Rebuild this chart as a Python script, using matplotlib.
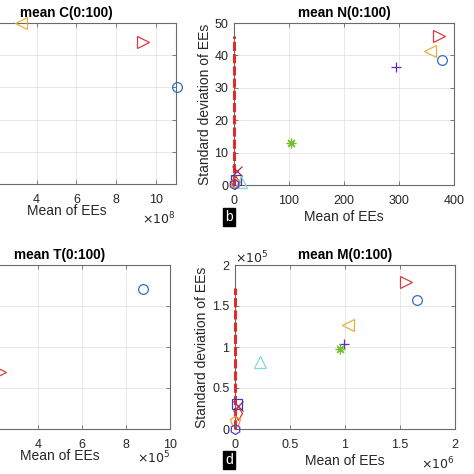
import matplotlib
matplotlib.use("Agg")
import matplotlib.pyplot as plt
from matplotlib.ticker import FuncFormatter, MultipleLocator, FixedLocator

plt.rcParams['font.family'] = ['Liberation Sans', 'DejaVu Sans']

# ---------------- data ----------------
markers = ['o', '+', (8, 2, 0), 'x', 's', 'd', '^', '>', '<', 'p', 'h']
colors = ['#2F6FC0', '#5A2DBE', '#77C030', '#A8284A', '#3A3AC8', '#D43A3A',
          '#7FD8DC', '#D83C3C', '#E9B040', '#F0A030', '#4040D0']

# panel a: mean C (only visible points)
C_idx = [0, 7, 8]
C_x = [11.04e8, 9.33e8, 3.2e8]
C_y = [6.0e8, 8.85e8, 10.0e8]
C_xticks = [4e8, 6e8, 8e8, 10e8]

# panel b: mean N
N_x = [379, 294, 104, 5, 3, 2, 12, 372, 356, 1, 0.5]
N_y = [38.6, 36.5, 12.9, 4.2, 1.5, 1.0, 1.0, 46, 41.4, 0.6, 0.3]
N_line_x = [0, 0]
N_line_y = [0, 46]

# panel c: mean T (only visible points)
T_idx = [0, 7]
T_x = [8.76e5, 2.27e5]
T_y = [1.71e5, 0.69e5]
T_xticks = [4e5, 6e5, 8e5, 10e5]

# panel d: mean M
M_x = [1.655e6, 0.99e6, 0.955e6, 0.03e6, 0.015e6, 0.03e6, 0.224e6, 1.557e6, 1.027e6, 0.0, 0.0]
M_y = [1.57e5, 1.04e5, 0.97e5, 0.28e5, 0.31e5, 0.2e5, 0.815e5, 1.79e5, 1.265e5, 0.1e5, 0.0]
M_line_x = [0, 0]
M_line_y = [0, 1.72e5]

titles = ['mean C(0:100)', 'mean N(0:100)', 'mean T(0:100)', 'mean M(0:100)']
xlabel = 'Mean of EEs'
ylabel = 'Standard deviation of EEs'

# ---------------- figure ----------------
W = H = 474
fig = plt.figure(figsize=(4.74, 4.74), dpi=100)


def px(l, t, r, b):
    return [l / W, 1 - b / H, (r - l) / W, (b - t) / H]


def style(ax, left_labels=True):
    for s in ax.spines.values():
        s.set_color('#6a6a6a')
        s.set_linewidth(0.8)
    ax.tick_params(direction='in', top=True, right=True, length=3, width=0.6,
                   color='#6a6a6a', labelsize=9, labelcolor='#262626')
    ax.tick_params(axis='x', pad=7)
    ax.tick_params(axis='y', pad=4, labelleft=left_labels)
    ax.grid(True, color='#e4e4e4', linewidth=0.6)
    ax.set_axisbelow(True)


def scat(ax, xs, ys, idx):
    for x, y, i in zip(xs, ys, idx):
        m = markers[i]
        ms = 8 if m in ['^', '>', '<', 'v'] else 7
        ax.plot([x], [y], linestyle='none', marker=m, markersize=ms,
                markerfacecolor='none', markeredgecolor=colors[i],
                markeredgewidth=0.9, clip_on=False, zorder=4)


def sci(scale):
    return FuncFormatter(lambda v, p: f"{v / scale:g}")


# panel a
axC = fig.add_axes(px(-43, 23, 176, 184))
style(axC, left_labels=False)
axC.set_xlim(0, 11e8)
axC.set_ylim(0, 10e8)
axC.xaxis.set_major_locator(FixedLocator(C_xticks))
axC.xaxis.set_minor_locator(MultipleLocator(2e8))
axC.grid(True, which='minor', axis='x', color='#e4e4e4', linewidth=0.6)
axC.tick_params(which='minor', length=0)
axC.yaxis.set_major_locator(MultipleLocator(2e8))
axC.xaxis.set_major_formatter(sci(1e8))
scat(axC, C_x, C_y, C_idx)
axC.set_title(titles[0], fontsize=9.8, fontweight='bold', pad=4)
axC.set_xlabel(xlabel, fontsize=10, color='#262626', labelpad=-1)
axC.text(1.0, -0.22, r'$\times10^{8}$', transform=axC.transAxes, ha='right',
         va='center', fontsize=9, color='#262626')

# panel b
axN = fig.add_axes(px(234, 23, 454, 185))
style(axN)
axN.set_xlim(0, 400)
axN.set_ylim(0, 50)
axN.xaxis.set_major_locator(MultipleLocator(100))
axN.yaxis.set_major_locator(MultipleLocator(10))
axN.plot(N_line_x, N_line_y, color='#E52A2A', linewidth=2.2,
         linestyle=(0, (3, 1)), clip_on=False, zorder=3)
scat(axN, N_x, N_y, range(len(N_x)))
axN.set_title(titles[1], fontsize=9.8, fontweight='bold', pad=4)
axN.set_xlabel(xlabel, fontsize=10, color='#262626', labelpad=2.3)
axN.set_ylabel(ylabel, fontsize=10, color='#262626', labelpad=2)

# panel c
axT = fig.add_axes(px(-50, 265, 170, 429))
style(axT, left_labels=False)
axT.set_xlim(0, 10e5)
axT.set_ylim(0, 2e5)
axT.xaxis.set_major_locator(FixedLocator(T_xticks))
axT.yaxis.set_major_locator(MultipleLocator(0.5e5))
axT.xaxis.set_major_formatter(sci(1e5))
scat(axT, T_x, T_y, T_idx)
axT.set_title(titles[2], fontsize=9.8, fontweight='bold', pad=4)
axT.set_xlabel(xlabel, fontsize=10, color='#262626', labelpad=-1)
axT.text(1.0, -0.175, r'$\times10^{5}$', transform=axT.transAxes, ha='right',
         va='center', fontsize=9, color='#262626')

# panel d
axM = fig.add_axes(px(235, 265, 455, 429))
style(axM)
axM.set_xlim(0, 2e6)
axM.set_ylim(0, 2e5)
axM.xaxis.set_major_locator(MultipleLocator(0.5e6))
axM.yaxis.set_major_locator(MultipleLocator(0.5e5))
axM.xaxis.set_major_formatter(sci(1e6))
axM.yaxis.set_major_formatter(sci(1e5))
axM.plot(M_line_x, M_line_y, color='#E52A2A', linewidth=2.2,
         linestyle=(0, (3, 1)), clip_on=False, zorder=3)
scat(axM, M_x, M_y, range(len(M_x)))
axM.set_title(titles[3], fontsize=9.8, fontweight='bold', pad=4)
axM.set_xlabel(xlabel, fontsize=10, color='#262626', labelpad=2.3)
axM.set_ylabel(ylabel, fontsize=10, color='#262626', labelpad=2)
axM.text(1.0, -0.215, r'$\times10^{6}$', transform=axM.transAxes, ha='right',
         va='center', fontsize=9, color='#262626')
axM.text(0.0, 0.995, r'$\times10^{5}$', transform=axM.transAxes, ha='left',
         va='bottom', fontsize=9, color='#262626')

# panel tags
for lab, (x, y) in zip(['b', 'd'], [(229, 217), (229, 460)]):
    fig.text(x / W, 1 - y / H, lab, ha='center', va='center', fontsize=10,
             color='white', bbox=dict(boxstyle='square,pad=0.15',
                                      facecolor='black', edgecolor='black'))

fig.savefig('out.png', dpi=100)
